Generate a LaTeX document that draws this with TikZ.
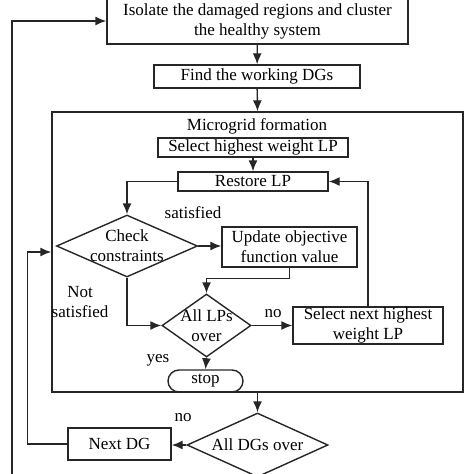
\documentclass[tikz,border=0pt]{standalone}
\usepackage{fontspec}
\setmainfont{Liberation Serif}
\usetikzlibrary{shapes.geometric,arrows.meta}
\tikzset{
  block/.style={draw,rectangle,inner sep=0pt,align=center},
  decision/.style={draw,diamond,inner sep=0pt},
  flow/.style={-{Latex[length=11pt,width=9pt]}},
}
\begin{document}
\begin{tikzpicture}[x=1pt,y=-1pt,line width=1.4pt,draw=black!85,font=\fontsize{17}{20}\selectfont]
\useasboundingbox (0,0) rectangle (474,474);
\node[block,minimum width=301,minimum height=46] (iso) at (257.5,21) {Isolate the damaged regions and cluster\\the healthy system};
\node[block,minimum width=206,minimum height=23] (find) at (257,76.5) {Find the working DGs};
\node[block,minimum width=411,minimum height=280] (mg) at (257.5,252) {};
\node (mgt) at (257,126) {Microgrid formation};
\node[block,minimum width=190,minimum height=19] (sel) at (253,147.5) {Select highest weight LP};
\node[block,minimum width=150,minimum height=19] (rest) at (253,181.5) {Restore LP};
\node[decision,minimum width=141,minimum height=62,label={[align=center]center:Check\\constraints}] (chk) at (127,246) {};
\node[block,minimum width=135,minimum height=40] (upd) at (289.5,247) {Update objective\\function value};
\node[decision,minimum width=89,minimum height=63,label={[align=center]center:All LPs\\over}] (alllp) at (206.5,325.5) {};
\node[block,minimum width=150,minimum height=37] (nxtlp) at (368,325.5) {Select next highest\\weight LP};
\node[block,rounded corners=11,minimum width=75,minimum height=22] (stop) at (205.5,381) {stop};
\node[decision,minimum width=141,minimum height=64,label={center:All DGs over}] (alldg) at (257.5,445) {};
\node[block,minimum width=103,minimum height=32] (nxtdg) at (119.5,444) {Next DG};
\coordinate (back) at (12,480);
% labels
\node (sat) at (193,213) {satisfied};
\node[align=center] (nsat) at (80,302) {Not\\satisfied};
\node (no1) at (273,314) {no};
\node (yes1) at (158,360) {yes};
\node (no2) at (183,418) {no};
% connectors
\draw[flow] (iso) -- (find);
\draw[flow] (find) -- (mg.north);
\draw[flow] (sel) -- (rest);
\draw[flow] (rest.west) -| (chk.north);
\draw[flow] (chk.east) -- (chk.east -| upd.west);
\draw[flow] (upd.south) -- ++(0,11) -| (alllp.north);
\draw[flow] (chk.south) |- (alllp.west);
\draw[flow] (alllp.east) -- (nxtlp.west);
\draw[flow] (nxtlp.north) |- (rest.east);
\draw[flow] (alllp.south) -- (stop.north);
\draw[flow] (mg.south -| alldg.north) -- (alldg.north);
\draw[flow] (alldg.west) -- (alldg.west -| nxtdg.east);
\draw[flow] (nxtdg.west) -- ++(-40,0) |- (mg.west);
\draw[flow] (back) |- (iso.west);
\end{tikzpicture}
\end{document}
